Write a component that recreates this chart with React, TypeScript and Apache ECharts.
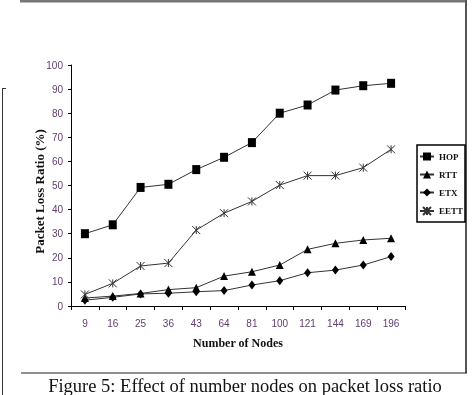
import React, { useEffect, useRef } from "react";
import * as echarts from "echarts";

const categories = ["9", "16", "25", "36", "43", "64", "81", "100", "121", "144", "169", "196"];
const hop = [30, 33.7, 49.2, 50.5, 56.6, 61.7, 67.8, 80, 83.4, 89.6, 91.4, 92.4];
const rtt = [3.3, 4.1, 5.2, 6.8, 7.6, 12.4, 14.2, 17, 23.5, 26, 27.4, 28.1];
const etx = [2.4, 3.6, 5, 5.3, 5.9, 6.4, 8.7, 10.5, 13.8, 14.9, 17, 20.5];
const eett = [4.8, 9.4, 16.6, 17.8, 31.5, 38.5, 43.4, 50.2, 54.1, 54.1, 57.4, 65];
const seriesNames = ["HOP", "RTT", "ETX", "EETT"];
const yTicks = { min: 0, max: 100, interval: 10 };
const caption = "Figure 5: Effect of number nodes on packet loss ratio";

const asterisk = "path://M0,0L10,10M10,0L0,10M5,0L5,10";

export default function App() {
  const ref = useRef<HTMLDivElement>(null);
  useEffect(() => {
    if (!ref.current) return;
    const chart = echarts.init(ref.current, null, { renderer: "svg" });
    const labelColor = "#5e3d6e";
    const lineColor = "#333";
    const mk = (name: string, data: number[], symbol: string, size: number | number[], extra: any = {}) => ({
      name,
      type: "line",
      data,
      symbol,
      symbolSize: size,
      showAllSymbol: true,
      lineStyle: { color: lineColor, width: 1 },
      itemStyle: { color: "#000", ...extra },
      emphasis: { disabled: true },
    });
    chart.setOption({
      animation: false,
      grid: { left: 71, right: 69, top: 65, bottom: 89, containLabel: false },
      xAxis: {
        type: "category",
        data: categories,
        boundaryGap: true,
        axisLine: { lineStyle: { color: "#000", width: 1 } },
        axisTick: { show: true, length: 4, lineStyle: { color: "#000" } },
        axisLabel: { color: labelColor, fontFamily: "Liberation Sans Narrow, Liberation Sans, sans-serif", fontSize: 10, margin: 12 },
        name: "Number of Nodes",
        nameLocation: "middle",
        nameGap: 31,
        nameMoveOverlap: false,
        nameTextStyle: { fontFamily: "Liberation Serif, serif", fontWeight: "bold", fontSize: 12, color: "#111" },
      },
      yAxis: {
        type: "value",
        min: yTicks.min,
        max: yTicks.max,
        interval: yTicks.interval,
        splitLine: { show: false },
        axisLine: { show: true, lineStyle: { color: "#000", width: 1 } },
        axisTick: { show: true, length: 3, lineStyle: { color: "#000" } },
        axisLabel: { color: labelColor, fontFamily: "Liberation Sans Narrow, Liberation Sans, sans-serif", fontSize: 10, margin: 8 },
        name: "Packet Loss Ratio (%)",
        nameLocation: "middle",
        nameGap: 25,
        nameMoveOverlap: false,
        nameTextStyle: { fontFamily: "Liberation Serif, serif", fontWeight: "bold", fontSize: 13, color: "#111", padding: [0, 12, 0, 0] },
      },
      legend: {
        orient: "vertical",
        left: 417,
        top: 145,
        padding: [7, 2, 6, 2],
        itemGap: 9,
        itemWidth: 14,
        itemHeight: 10,
        borderColor: "#000",
        borderWidth: 1.5,
        textStyle: { fontFamily: "Liberation Serif, serif", fontWeight: "bold", fontSize: 9, color: "#111" },
        data: seriesNames,
      },
      graphic: [
        { type: "line", shape: { x1: 20, y1: 1, x2: 467, y2: 1 }, style: { stroke: "#777", lineWidth: 3 } },
        { type: "line", shape: { x1: 466, y1: 0, x2: 466, y2: 373 }, style: { stroke: "#555", lineWidth: 2 } },
        { type: "line", shape: { x1: 21, y1: 373, x2: 467, y2: 373 }, style: { stroke: "#222", lineWidth: 1.2 } },
        { type: "line", shape: { x1: 2.5, y1: 88, x2: 2.5, y2: 395 }, style: { stroke: "#333", lineWidth: 1 } },
        { type: "line", shape: { x1: 2, y1: 88.5, x2: 6, y2: 88.5 }, style: { stroke: "#333", lineWidth: 1 } },
        {
          type: "text",
          x: 245,
          y: 386,
          style: { text: caption, fill: "#111", font: "18.5px 'Liberation Serif', serif", align: "center", verticalAlign: "middle" },
        },
      ],
      series: [
        mk("HOP", hop, "rect", [8, 9]),
        mk("RTT", rtt, "triangle", 8),
        mk("ETX", etx, "diamond", [7, 9]),
        mk("EETT", eett, asterisk, 8, { color: "#fff", borderColor: "#333", borderWidth: 1 }),
      ],
    });
    return () => chart.dispose();
  }, []);
  return <div ref={ref} style={{ position: "fixed", left: 0, top: 0, width: 474, height: 395 }} />;
}
